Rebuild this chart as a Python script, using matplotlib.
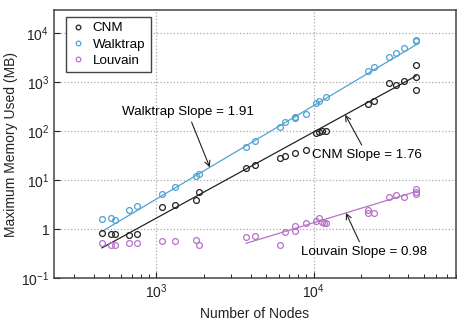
import numpy as np
import matplotlib
matplotlib.use("Agg")
import matplotlib.pyplot as plt
from matplotlib.ticker import FuncFormatter, LogLocator, NullFormatter

plt.rcParams['font.family'] = ['Liberation Sans', 'DejaVu Sans']
plt.rcParams['mathtext.fontset'] = 'custom'
plt.rcParams['mathtext.rm'] = 'Liberation Sans'

# Graph sizes (number of nodes) and peak memory (MB) per algorithm
cnm_nodes = [452, 513, 546, 670, 760, 1081, 1316, 1782, 1875, 3741, 4266, 6081,
             6588, 7661, 8917, 10398, 10869, 11302, 11950, 22070, 24340, 30340,
             33340, 37760, 44870, 44870, 44870]
cnm_mem = [0.84, 0.80, 0.80, 0.76, 0.80, 2.79, 3.10, 3.98, 5.8, 17.9, 20.4, 28.7,
           31.1, 36.3, 40.6, 93, 97.6, 101, 102, 359, 408, 965,
           891, 1075, 1262, 2279, 705]

walktrap_nodes = [452, 513, 546, 670, 760, 1081, 1316, 1782, 1875, 3741, 4266,
                  6081, 6588, 7661, 7661, 8917, 10398, 10869, 11950, 22070, 24340,
                  30340, 33340, 37760, 44870, 44870]
walktrap_mem = [1.58, 1.68, 1.53, 2.45, 2.92, 5.28, 7.13, 12.1, 13.3, 46.9, 64,
                124, 152, 198, 190, 224, 371, 414, 507, 1675, 2020,
                3234, 3902, 5010, 7060, 7410]

louvain_nodes = [452, 513, 546, 670, 760, 1081, 1316, 1782, 1875, 3741, 4266,
                 6081, 6588, 7661, 7661, 8917, 10398, 10869, 11302, 11610, 11950,
                 22070, 22070, 24340, 30340, 33340, 37760, 44870, 44870, 44870]
louvain_mem = [0.53, 0.47, 0.47, 0.53, 0.53, 0.56, 0.56, 0.60, 0.47, 0.70, 0.72,
               0.47, 0.86, 0.93, 1.17, 1.31, 1.46, 1.71, 1.41, 1.35, 1.31,
               2.45, 2.10, 2.16, 4.46, 4.90, 4.58, 6.5, 5.8, 5.2]

# Log-log fits: slope, intercept (log10), and node range of each fit
fit_slopes = {'CNM': 1.76, 'Walktrap': 1.91, 'Louvain': 0.98}
fit_intercepts = {'CNM': -5.057, 'Walktrap': -5.118, 'Louvain': -3.791}
fit_ranges = {'CNM': (452, 44870), 'Walktrap': (452, 44870), 'Louvain': (3725, 44870)}

colors = {'CNM': '#222222', 'Walktrap': '#4fa3d4', 'Louvain': '#b673c8'}


def fit_line(name, x):
    x = np.asarray(x, dtype=float)
    return 10 ** (fit_intercepts[name] + fit_slopes[name] * np.log10(x))


fig = plt.figure(figsize=(4.74, 3.22), dpi=100)
ax = fig.add_axes([0.1139, 0.1366, 0.8481, 0.8323])

series = [('CNM', cnm_nodes, cnm_mem),
          ('Walktrap', walktrap_nodes, walktrap_mem),
          ('Louvain', louvain_nodes, louvain_mem)]

for name, xs, ys in series:
    ax.plot(xs, ys, 'o', ms=4.2, mfc='none', mec=colors[name], mew=0.9,
            label=name, zorder=3)

for name, xs, ys in series:
    lo, hi = fit_ranges[name]
    xl = np.array([lo, hi], dtype=float)
    ax.plot(xl, fit_line(name, xl), '-', color=colors[name], lw=0.9, zorder=2)

ax.set_xscale('log')
ax.set_yscale('log')
ax.set_xlim(224, 80400)
ax.set_ylim(0.1, 3.0e4)


def log_fmt(v, pos):
    e = int(round(np.log10(v)))
    if e == 0:
        return '1'
    return r'$\mathdefault{10^{%d}}$' % e


ax.xaxis.set_major_locator(LogLocator(base=10, numticks=10))
ax.yaxis.set_major_locator(LogLocator(base=10, numticks=10))
ax.xaxis.set_major_formatter(FuncFormatter(log_fmt))
ax.yaxis.set_major_formatter(FuncFormatter(log_fmt))
ax.xaxis.set_minor_locator(LogLocator(base=10, subs=np.arange(2, 10), numticks=20))
ax.xaxis.set_minor_formatter(NullFormatter())
ax.yaxis.set_minor_locator(plt.NullLocator())

ax.tick_params(axis='both', which='both', direction='in', labelsize=10, colors='#222222')
ax.tick_params(axis='both', which='major', length=4, width=0.8)
ax.tick_params(axis='x', which='minor', length=3, width=0.7)

ax.grid(True, which='major', linestyle=':', color='#aaaaaa', linewidth=0.9)
for s in ax.spines.values():
    s.set_color('#444444')
    s.set_linewidth(1.1)

ax.set_xlabel('Number of Nodes', fontsize=10, color='#222222')
ax.set_ylabel('Maximum Memory Used (MB)', fontsize=10, color='#222222', labelpad=2)

arrow = dict(arrowstyle='->', color='#222222', lw=0.8, shrinkA=1, shrinkB=0)
ax.annotate('Walktrap Slope = 1.91', xy=(2190, fit_line('Walktrap', 2190)),
            xytext=(1581, 247), ha='center', va='center', fontsize=9.6,
            arrowprops=arrow)
ax.annotate('CNM Slope = 1.76', xy=(15880, fit_line('CNM', 15880)),
            xytext=(21930, 32.6), ha='center', va='center', fontsize=9.6,
            arrowprops=arrow)
ax.annotate('Louvain Slope = 0.98', xy=(16070, fit_line('Louvain', 16070)),
            xytext=(20940, 0.344), ha='center', va='center', fontsize=9.6,
            arrowprops=arrow)

leg = ax.legend(loc='upper left', bbox_to_anchor=(0.03, 0.975), borderaxespad=0,
                fontsize=9.6, frameon=True, fancybox=False, framealpha=1,
                edgecolor='#444444', numpoints=1, handlelength=1.0,
                handletextpad=0.6, labelspacing=0.3, borderpad=0.4,
                markerscale=0.8)
leg.get_frame().set_linewidth(1.0)

fig.savefig('out.png', dpi=100)
